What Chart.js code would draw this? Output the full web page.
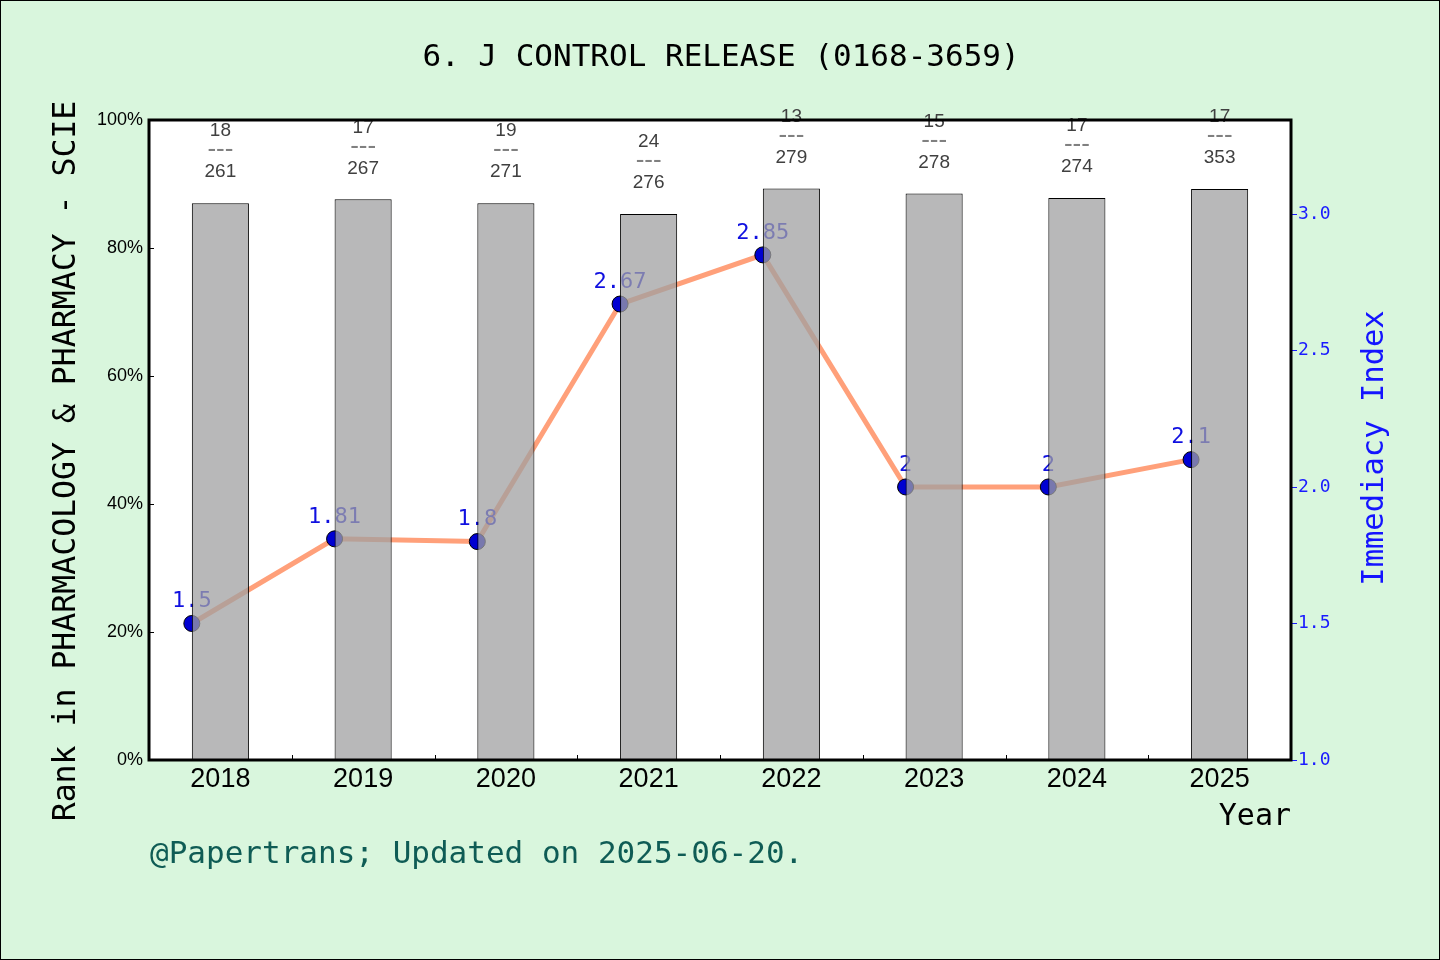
<!DOCTYPE html>
<html>
<head>
<meta charset="utf-8">
<script src="https://cdn.jsdelivr.net/npm/chart.js@4.4.1/dist/chart.umd.min.js"></script>
<style>
html,body{margin:0;padding:0;background:#d9f6dd;}
canvas{display:block;}
</style>
</head>
<body>
<canvas id="c" width="1440" height="960"></canvas>
<script>
const years = [2018, 2019, 2020, 2021, 2022, 2023, 2024, 2025];
const rankPositions = [18, 17, 19, 24, 13, 15, 17, 17];
const categoryTotals = [261, 267, 271, 276, 279, 278, 274, 353];
const rankBarPercent = [87.0, 87.6, 87.0, 85.3, 89.3, 88.5, 87.8, 89.2];
const immediacyIndex = [1.5, 1.81, 1.8, 2.67, 2.85, 2, 2, 2.1];
const leftTicks = [0, 20, 40, 60, 80, 100];
const rightTicks = [1.0, 1.5, 2.0, 2.5, 3.0];

const titleText = '6. J CONTROL RELEASE (0168-3659)';
const leftTitle = 'Rank in PHARMACOLOGY & PHARMACY - SCIE';
const rightTitle = 'Immediacy Index';
const xTitle = 'Year';
const footer = '@Papertrans; Updated on 2025-06-20.';

const MONO = '"DejaVu Sans Mono", "Liberation Mono", monospace';
const SANS = '"Liberation Sans", Arial, sans-serif';
const AREA = {left: 149, right: 1291, top: 120, bottom: 760};

const decorPlugin = {
  id: 'decor',
  beforeDraw(chart) {
    const ctx = chart.ctx;
    ctx.save();
    ctx.fillStyle = '#d9f6dd';
    ctx.fillRect(0, 0, chart.width, chart.height);
    const a = chart.chartArea;
    ctx.fillStyle = '#ffffff';
    ctx.fillRect(a.left, a.top, a.right - a.left, a.bottom - a.top);
    ctx.restore();
  },
  afterDatasetDraw(chart, args) {
    if (args.index !== 1) return;
    const ctx = chart.ctx;
    const meta = chart.getDatasetMeta(1);
    ctx.save();
    ctx.font = '22px ' + MONO;
    ctx.fillStyle = '#1010e0';
    ctx.textAlign = 'center';
    ctx.textBaseline = 'middle';
    meta.data.forEach((pt, i) => {
      ctx.fillText(String(immediacyIndex[i]), pt.x, pt.y - 22);
    });
    ctx.restore();
  },
  afterDatasetsDraw(chart) {
    const ctx = chart.ctx;
    const meta = chart.getDatasetMeta(0);
    ctx.save();
    ctx.textAlign = 'center';
    ctx.textBaseline = 'middle';
    meta.data.forEach((bar, i) => {
      ctx.font = '19px ' + SANS;
      ctx.fillStyle = '#404040';
      ctx.fillText(String(rankPositions[i]), bar.x, bar.y - 72);
      ctx.fillText(String(categoryTotals[i]), bar.x, bar.y - 31);
      ctx.font = '26px ' + SANS;
      ctx.fillStyle = '#808080';
      ctx.fillText('---', bar.x, bar.y - 53);
    });
    ctx.restore();
  },
  afterDraw(chart) {
    const ctx = chart.ctx;
    const a = chart.chartArea;
    ctx.save();
    ctx.strokeStyle = '#000';
    ctx.lineWidth = 1;
    const yl = chart.scales.y;
    leftTicks.forEach(v => {
      const y = Math.round(yl.getPixelForValue(v)) + 0.5;
      ctx.beginPath(); ctx.moveTo(a.left, y); ctx.lineTo(a.left + 5, y); ctx.stroke();
    });
    const n = years.length;
    const w = (a.right - a.left) / n;
    for (let k = 1; k < n; k++) {
      const x = Math.round(a.left + k * w) + 0.5;
      ctx.beginPath(); ctx.moveTo(x, a.bottom); ctx.lineTo(x, a.bottom - 5); ctx.stroke();
    }
    const yr = chart.scales.y2;
    ctx.strokeStyle = '#1a1aff';
    rightTicks.forEach(v => {
      const y = Math.round(yr.getPixelForValue(v)) + 0.5;
      ctx.beginPath(); ctx.moveTo(a.right, y); ctx.lineTo(a.right + 6, y); ctx.stroke();
    });
    ctx.strokeStyle = '#000';
    ctx.lineWidth = 3;
    ctx.strokeRect(a.left, a.top, a.right - a.left, a.bottom - a.top);
    ctx.textBaseline = 'middle';
    ctx.textAlign = 'center';
    ctx.fillStyle = '#000';
    ctx.font = '31px ' + MONO;
    ctx.fillText(titleText, 721, 58);
    ctx.save();
    ctx.translate(67, 461);
    ctx.rotate(-Math.PI / 2);
    ctx.font = '31.5px ' + MONO;
    ctx.fillText(leftTitle, 0, 0);
    ctx.restore();
    ctx.save();
    ctx.translate(1375, 448);
    ctx.rotate(-Math.PI / 2);
    ctx.font = '30.5px ' + MONO;
    ctx.fillStyle = '#1414ff';
    ctx.fillText(rightTitle, 0, 0);
    ctx.restore();
    ctx.textAlign = 'right';
    ctx.font = '30px ' + MONO;
    ctx.fillStyle = '#000';
    ctx.fillText(xTitle, a.right, 817);
    ctx.textAlign = 'left';
    ctx.font = '31px ' + MONO;
    ctx.fillStyle = '#0f5c55';
    ctx.fillText(footer, 150, 855);
    ctx.lineWidth = 1;
    ctx.strokeStyle = '#000';
    ctx.strokeRect(0.5, 0.5, chart.width - 1, chart.height - 1);
    ctx.restore();
  }
};

new Chart(document.getElementById('c'), {
  data: {
    labels: years.map(String),
    datasets: [
      {
        type: 'bar',
        label: 'Rank',
        data: rankBarPercent,
        xAxisID: 'x',
        yAxisID: 'y',
        backgroundColor: 'rgba(160,160,162,0.75)',
        borderColor: '#000',
        borderWidth: 1,
        barPercentage: 0.4,
        categoryPercentage: 1.0,
        grouped: false,
        order: 1
      },
      {
        type: 'line',
        label: 'Immediacy Index',
        data: years.map((yr, i) => ({x: yr, y: immediacyIndex[i]})),
        xAxisID: 'x2',
        yAxisID: 'y2',
        borderColor: '#ffa07a',
        borderWidth: 5,
        pointRadius: 8,
        pointBackgroundColor: '#0000d2',
        pointBorderColor: '#000',
        pointBorderWidth: 1,
        tension: 0,
        order: 2
      }
    ]
  },
  options: {
    responsive: false,
    animation: false,
    layout: {padding: {top: AREA.top, left: 0, right: 0, bottom: 0}},
    plugins: {legend: {display: false}, tooltip: {enabled: false}, title: {display: false}},
    scales: {
      x: {
        type: 'category',
        position: 'bottom',
        offset: true,
        grid: {display: false, drawTicks: false},
        border: {display: false},
        ticks: {color: '#000', font: {family: SANS, size: 27}, padding: 3, maxRotation: 0},
        afterFit(s) { s.height = 960 - AREA.bottom; }
      },
      x2: {
        type: 'linear',
        display: false,
        min: years[0] - 0.3,
        max: years[years.length - 1] + 0.7
      },
      y: {
        type: 'linear',
        position: 'left',
        min: 0, max: 100,
        grid: {display: false, drawTicks: false},
        border: {display: false},
        ticks: {stepSize: 20, color: '#000', font: {family: SANS, size: 18}, padding: 6,
          callback: v => v + '%'},
        afterFit(s) { s.width = AREA.left; }
      },
      y2: {
        type: 'linear',
        position: 'right',
        min: 1.0, max: 3.344,
        grid: {display: false, drawTicks: false},
        border: {display: false},
        ticks: {stepSize: 0.5, includeBounds: false, color: '#1a1aff', font: {family: MONO, size: 18}, padding: 7,
          callback: v => Number(v).toFixed(1)},
        afterBuildTicks(s) { s.ticks = s.ticks.filter(t => rightTicks.some(r => Math.abs(r - t.value) < 1e-6)); },
        afterFit(s) { s.width = 1440 - AREA.right; }
      }
    }
  },
  plugins: [decorPlugin]
});
</script>
</body>
</html>
